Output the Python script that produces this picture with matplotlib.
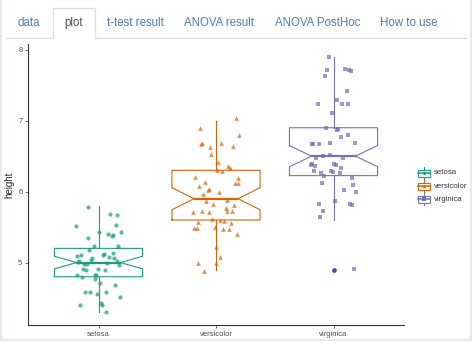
import numpy as np
import matplotlib
matplotlib.use('Agg')
import matplotlib.pyplot as plt
from matplotlib.patches import Rectangle

plt.rcParams['font.family'] = ['Liberation Sans', 'DejaVu Sans']

groups = ['setosa', 'versicolor', 'virginica']
colors = ['#1B9E77', '#D95F02', '#7570B3']
markers = ['o', '^', 's']

setosa = [5.1, 4.9, 4.7, 4.6, 5.0, 5.4, 4.6, 5.0, 4.4, 4.9, 5.4, 4.8, 4.8, 4.3, 5.8,
          5.7, 5.4, 5.1, 5.7, 5.1, 5.4, 5.1, 4.6, 5.1, 4.8, 5.0, 5.0, 5.2, 5.2, 4.7,
          4.8, 5.4, 5.2, 5.5, 4.9, 5.0, 5.5, 4.9, 4.4, 5.1, 5.0, 4.5, 4.4, 5.0, 5.1,
          4.8, 5.1, 4.6, 5.3, 5.0]
versicolor = [7.0, 6.4, 6.9, 5.5, 6.5, 5.7, 6.3, 4.9, 6.6, 5.2, 5.0, 5.9, 6.0, 6.1, 5.6,
              6.7, 5.6, 5.8, 6.2, 5.6, 5.9, 6.1, 6.3, 6.1, 6.4, 6.6, 6.8, 6.7, 6.0, 5.7,
              5.5, 5.5, 5.8, 6.0, 5.4, 6.0, 6.7, 6.3, 5.6, 5.5, 5.5, 6.1, 5.8, 5.0, 5.6,
              5.7, 5.7, 6.2, 5.1, 5.7]
virginica = [6.3, 5.8, 7.1, 6.3, 6.5, 7.6, 4.9, 7.3, 6.7, 7.2, 6.5, 6.4, 6.8, 5.7, 5.8,
             6.4, 6.5, 7.7, 7.7, 6.0, 6.9, 5.6, 7.7, 6.3, 6.7, 7.2, 6.2, 6.1, 6.4, 7.2,
             7.4, 7.9, 6.4, 6.3, 6.1, 7.7, 6.3, 6.4, 6.0, 6.9, 6.7, 6.9, 5.8, 6.8, 6.7,
             6.7, 6.3, 6.5, 6.2, 5.9]
values = [setosa, versicolor, virginica]

tabs = ['data', 'plot', 't-test result', 'ANOVA result', 'ANOVA PostHoc', 'How to use']
tab_x = [29, 74, 135, 219, 318, 409]

W, H = 474, 348
fig = plt.figure(figsize=(W / 100, H / 100), dpi=100)

# page overlay in pixel coords
bg = fig.add_axes([0, 0, 1, 1])
bg.set_xlim(0, W)
bg.set_ylim(H, 0)
bg.axis('off')
bg.add_patch(Rectangle((1.5, -5), W - 4, H - 3.5, fill=False, ec='#dfe7e4', lw=1.2))
bg.plot([6, 53], [38, 38], color='#dddddd', lw=0.9)
bg.plot([95, 466], [38, 38], color='#dddddd', lw=0.9)
bg.plot([53, 53, 95, 95], [38, 8, 8, 38], color='#dddddd', lw=0.9)
for t, x in zip(tabs, tab_x):
    c = '#555555' if t == 'plot' else '#4a7db0'
    bg.text(x, 23, t, ha='center', va='center', fontsize=8.3, color=c)

# main plot
ax = fig.add_axes([28 / W, 23 / H, (404 - 28) / W, (325 - 44) / H])
pos = np.arange(1, 4)
bp = ax.boxplot(values, positions=pos, widths=0.75, notch=True, patch_artist=False,
                whis=1.5, manage_ticks=False)
for i, c in enumerate(colors):
    for key, n in [('boxes', 1), ('medians', 1), ('whiskers', 2), ('fliers', 1)]:
        for art in bp[key][i * n:(i + 1) * n]:
            art.set_color(c)
            art.set_linewidth(0.8)
    bp['medians'][i].set_linewidth(1.6)
    bp['fliers'][i].set_marker('o')
    bp['fliers'][i].set_markersize(2.4)
    bp['fliers'][i].set_markerfacecolor('#4b46a0')
    bp['fliers'][i].set_markeredgecolor('#4b46a0')
for cap in bp['caps']:
    cap.set_visible(False)

# jitter as in geom_jitter(width = 0.2)
golden = 0.6180339887
for i, (vals, c, m) in enumerate(zip(values, colors, markers)):
    n = len(vals)
    k = np.arange(n) + 1
    off = ((k * golden + 0.31 * i) % 1 - 0.5) * 0.4
    voff = ((k * 0.7548776662 + 0.17 * i) % 1 - 0.5) * 0.08
    ax.scatter(pos[i] + off, np.array(vals) + voff, s=9 if m != '^' else 11,
               marker=m, color=c, alpha=0.72, linewidths=0, zorder=3)

ax.set_xlim(0.4, 3.6)
ax.set_ylim(4.12, 8.08)
ax.set_xticks(pos)
ax.set_xticklabels(groups)
ax.set_yticks([5, 6, 7, 8])
ax.tick_params(labelsize=5.5, colors='#4d4d4d', length=2.5, width=0.6, pad=1.5)
ax.set_ylabel('height', fontsize=7, color='#222222', labelpad=3)
for s in ['top', 'right']:
    ax.spines[s].set_visible(False)
for s in ['left', 'bottom']:
    ax.spines[s].set_color('#333333')
    ax.spines[s].set_linewidth(0.8)

# legend
for j, (g, c, m) in enumerate(zip(groups, colors, markers)):
    y = 173 + j * 13.2
    bg.add_patch(Rectangle((418, y - 3.5), 12, 7, fill=False, ec=c, lw=0.8))
    bg.plot([418, 430], [y, y], color=c, lw=1.1)
    bg.plot([424, 424], [y - 6, y - 3.5], color=c, lw=0.8)
    bg.plot([424, 424], [y + 3.5, y + 6], color=c, lw=0.8)
    bg.scatter([424], [y], s=5, marker=m, color=c, linewidths=0)
    bg.text(434, y, g, fontsize=5.6, color='#333333', va='center', ha='left')

fig.savefig('out.png', dpi=100)
